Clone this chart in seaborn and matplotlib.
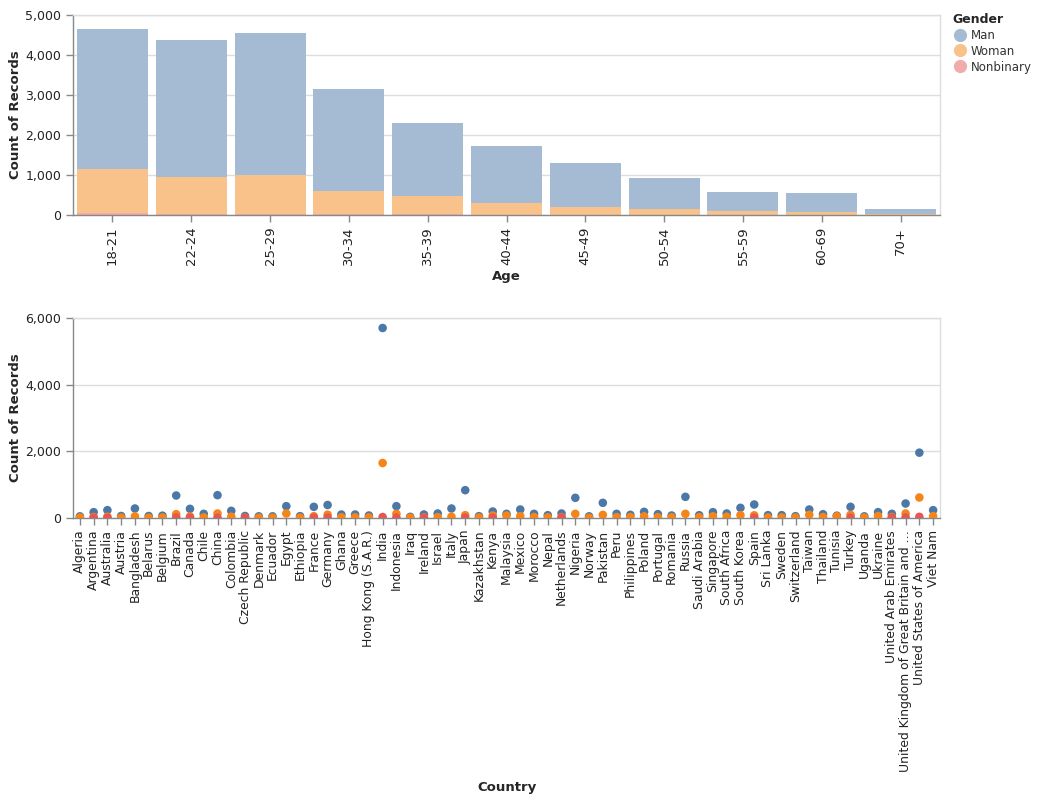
import matplotlib
matplotlib.use("Agg")
import matplotlib.pyplot as plt
import seaborn as sns
import pandas as pd
import numpy as np
from matplotlib.lines import Line2D
from matplotlib.ticker import FuncFormatter

# ---------------- data ----------------
ages = ["18-21", "22-24", "25-29", "30-34", "35-39", "40-44", "45-49", "50-54", "55-59", "60-69", "70+"]
age_man = [3500, 3430, 3560, 2550, 1835, 1415, 1095, 770, 472, 473, 124]
age_woman = [1100, 917, 960, 590, 450, 300, 200, 150, 100, 75, 25]
age_nonbinary = [40, 28, 30, 20, 15, 10, 5, 5, 3, 2, 1]

countries = ["Algeria", "Argentina", "Australia", "Austria", "Bangladesh", "Belarus", "Belgium", "Brazil",
             "Canada", "Chile", "China", "Colombia", "Czech Republic", "Denmark", "Ecuador", "Egypt",
             "Ethiopia", "France", "Germany", "Ghana", "Greece", "Hong Kong (S.A.R.)", "India", "Indonesia",
             "Iraq", "Ireland", "Israel", "Italy", "Japan", "Kazakhstan", "Kenya", "Malaysia", "Mexico",
             "Morocco", "Nepal", "Netherlands", "Nigeria", "Norway", "Pakistan", "Peru", "Philippines",
             "Poland", "Portugal", "Romania", "Russia", "Saudi Arabia", "Singapore", "South Africa",
             "South Korea", "Spain", "Sri Lanka", "Sweden", "Switzerland", "Taiwan", "Thailand", "Tunisia",
             "Turkey", "Uganda", "Ukraine", "United Arab Emirates",
             "United Kingdom of Great Britain and \u2026", "United States of America", "Viet Nam"]
country_man = [50, 175, 235, 60, 285, 60, 70, 675, 275, 125, 685, 215, 60, 50, 50, 355,
               55, 335, 390, 105, 105, 75, 5700, 355, 35, 105, 135, 285, 835, 55, 195, 125, 255,
               125, 85, 135, 605, 50, 455, 125, 95, 185, 115, 75, 635, 85, 175, 135,
               305, 405, 85, 85, 55, 255, 115, 70, 335, 50, 175, 125, 435, 1960, 235]
country_woman = [15, 30, 40, 10, 50, 10, 15, 115, 45, 20, 135, 40, 10, 10, 10, 135,
                 10, 55, 100, 20, 20, 20, 1650, 125, 10, 20, 25, 40, 85, 15, 75, 75, 55,
                 30, 20, 25, 125, 10, 95, 25, 30, 50, 25, 20, 125, 25, 50, 40,
                 85, 80, 15, 15, 15, 95, 30, 50, 95, 15, 60, 30, 135, 615, 55]
nb_countries = ["Argentina", "Australia", "Brazil", "Canada", "China", "Czech Republic", "France", "Germany",
                "India", "Indonesia", "Ireland", "Japan", "Kenya", "Netherlands", "Spain", "Turkey",
                "United Arab Emirates", "United Kingdom of Great Britain and \u2026",
                "United States of America"]
nb_values = [10, 10, 15, 10, 10, 5, 10, 10, 30, 10, 5, 10, 10, 10, 10, 10, 10, 15, 35]

genders = ["Man", "Woman", "Nonbinary"]
gender_colors = ["#4c78a8", "#f58518", "#e45756"]
gender_light = ["#a5bbd3", "#fac28b", "#f1abaa"]

# ---------------- figure ----------------
sns.set_theme(style="white")
plt.rcParams["font.family"] = ["DejaVu Sans"]

W, H = 1058, 796
fig = plt.figure(figsize=(W / 100, H / 100), dpi=100)
ax1 = fig.add_axes([73 / W, 1 - 215 / H, 867 / W, 200 / H])
ax2 = fig.add_axes([73 / W, 1 - 518 / H, 867 / W, 200 / H])

axis_col = "#888888"
grid_col = "#dddddd"

def style_axes(ax):
    for s in ["top", "right"]:
        ax.spines[s].set_color(grid_col)
        ax.spines[s].set_linewidth(1)
    for s in ["left", "bottom"]:
        ax.spines[s].set_color(axis_col)
        ax.spines[s].set_linewidth(1)
    ax.yaxis.grid(True, color=grid_col, linewidth=1)
    ax.xaxis.grid(False)
    ax.set_axisbelow(True)
    ax.tick_params(axis="both", which="both", length=5, width=1, color=axis_col,
                   labelcolor="#222222", bottom=True, left=True)
    ax.yaxis.set_major_formatter(FuncFormatter(lambda v, p: f"{int(v):,}"))

# ---- top: stacked bars (Nonbinary at bottom, Woman, Man on top) ----
age_df = pd.DataFrame({"Age": ages,
                       "nb": np.array(age_nonbinary),
                       "woman": np.array(age_nonbinary) + np.array(age_woman),
                       "total": np.array(age_nonbinary) + np.array(age_woman) + np.array(age_man)})
sns.barplot(data=age_df, x="Age", y="total", order=ages, color=gender_light[0], width=0.9,
            saturation=1, ax=ax1, linewidth=0)
sns.barplot(data=age_df, x="Age", y="woman", order=ages, color=gender_light[1], width=0.9,
            saturation=1, ax=ax1, linewidth=0)
sns.barplot(data=age_df, x="Age", y="nb", order=ages, color=gender_light[2], width=0.9,
            saturation=1, ax=ax1, linewidth=0)
style_axes(ax1)
ax1.set_ylim(0, 5000)
ax1.set_yticks([0, 1000, 2000, 3000, 4000, 5000])
ax1.set_xlim(-0.5, len(ages) - 0.5)
ax1.tick_params(axis="x", labelrotation=90, labelsize=9.5)
ax1.tick_params(axis="y", labelsize=9)
ax1.set_xlabel("Age", fontsize=9.5, fontweight="bold")
ax1.set_ylabel("Count of Records", fontsize=9.5, fontweight="bold")

# ---- bottom: scatter ----
country_df = pd.concat([
    pd.DataFrame({"Country": countries, "Count": country_man, "Gender": "Man"}),
    pd.DataFrame({"Country": countries, "Count": country_woman, "Gender": "Woman"}),
    pd.DataFrame({"Country": nb_countries, "Count": nb_values, "Gender": "Nonbinary"}),
], ignore_index=True)
country_df["Country"] = pd.Categorical(country_df["Country"], categories=countries, ordered=True)
sns.scatterplot(data=country_df, x="Country", y="Count", hue="Gender", hue_order=genders,
                palette=gender_colors, s=38, linewidth=0, alpha=1, ax=ax2, legend=False, zorder=3)
style_axes(ax2)
ax2.set_ylim(0, 6000)
ax2.set_yticks([0, 2000, 4000, 6000])
ax2.set_xlim(-0.5, len(countries) - 0.5)
ax2.set_xticks(range(len(countries)))
ax2.set_xticklabels(countries, rotation=90, fontsize=8.9)
ax2.tick_params(axis="y", labelsize=9)
for sp in ax2.spines.values():
    sp.set_zorder(2)
ax2.set_xlabel("Country", fontsize=9.5, fontweight="bold")
ax2.xaxis.set_label_coords(0.5, -(781 - 518) / 200)
ax2.set_ylabel("Count of Records", fontsize=9.5, fontweight="bold")
ax2.yaxis.set_label_coords(-(73 - 22) / 867, 0.5)
ax1.yaxis.set_label_coords(-(73 - 22) / 867, 0.5)
ax1.xaxis.set_label_coords(0.5, -(270 - 215) / 200)

# ---- legend ----
handles = [Line2D([0], [0], marker="o", linestyle="", markersize=9.5,
                  markerfacecolor=c, markeredgewidth=0) for c in gender_light]
leg = fig.legend(handles, genders, title="Gender", loc="upper left",
                 bbox_to_anchor=(948 / W, 1 - 8 / H), frameon=False, fontsize=8.5,
                 title_fontproperties={"weight": "bold", "size": 9},
                 handletextpad=0.3, labelspacing=0.25, handlelength=1.2, borderaxespad=0)
leg._legend_box.align = "left"
for t in leg.get_texts():
    t.set_color("#333333")

fig.savefig("out.png", dpi=100, facecolor="white")
